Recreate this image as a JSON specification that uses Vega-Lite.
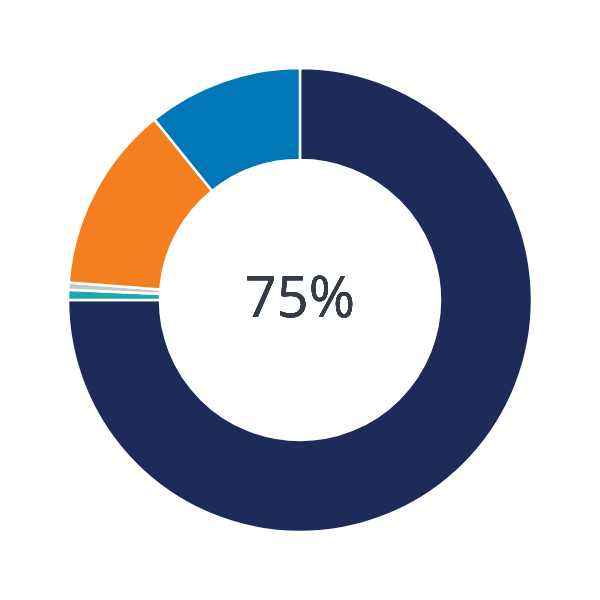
{
  "$schema": "https://vega.github.io/schema/vega-lite/v6.json",
  "width": 600,
  "height": 600,
  "autosize": {"type": "fit", "contains": "padding"},
  "padding": 0,
  "background": "white",
  "view": {"stroke": null},
  "data": {
    "values": [
      {"segment": "A", "order": 1, "value": 75},
      {"segment": "B", "order": 2, "value": 0.7},
      {"segment": "C", "order": 3, "value": 0.5},
      {"segment": "D", "order": 4, "value": 13.0},
      {"segment": "E", "order": 5, "value": 10.8}
    ]
  },
  "layer": [
    {
      "mark": {"type": "arc", "outerRadius": 232, "innerRadius": 140, "stroke": "white", "strokeWidth": 2.5},
      "encoding": {
        "theta": {"field": "value", "type": "quantitative", "stack": true},
        "order": {"field": "order", "type": "quantitative"},
        "color": {
          "field": "segment",
          "type": "nominal",
          "scale": {
            "domain": ["A", "B", "C", "D", "E"],
            "range": ["#1c2b5a", "#1fa8ac", "#c3c8cf", "#f47f20", "#0277b6"]
          },
          "legend": null
        }
      }
    },
    {
      "mark": {"type": "text", "text": "75%", "font": "Open Sans", "fontSize": 56, "color": "#343d46", "baseline": "middle", "align": "center", "dy": 0},
      "encoding": {}
    }
  ]
}
